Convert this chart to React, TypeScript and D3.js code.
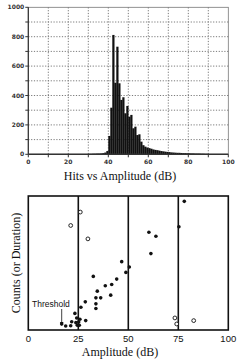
import * as React from 'react';
import * as d3 from 'd3';

// top histogram: 1 dB bins, counts
const binStart = [30, 31, 32, 33, 34, 35, 36, 37, 38, 39, 40, 41, 42, 43, 44, 45, 46, 47, 48, 49, 50, 51, 52, 53, 54, 55, 56, 57, 58, 59, 60, 61, 62, 63, 64, 65, 66, 67, 68, 69, 70, 71, 72, 73, 74, 75, 76, 77, 78, 79, 80, 81, 82, 83, 84, 85, 86, 87, 88, 89, 90];
const hits = [3, 3, 4, 4, 5, 5, 6, 8, 12, 22, 125, 317, 812, 487, 732, 483, 370, 388, 279, 329, 256, 268, 177, 188, 131, 136, 86, 62, 52, 46, 42, 38, 33, 30, 28, 25, 22, 20, 18, 16, 15, 13, 12, 11, 10, 10, 9, 8, 8, 7, 7, 6, 6, 5, 5, 5, 4, 4, 3, 3, 2];
const histYTicks = [0, 200, 400, 600, 800, 1000];
const histXTicks = [0, 20, 40, 60, 80, 100];

// bottom scatter: amplitude vs counts (relative 0-100)
const hitAmp = [16.7, 18.7, 21.2, 21.7, 23.3, 23.8, 24.5, 25.2, 25.5, 24.2, 25.8, 26.3, 28.5, 28.7, 32.5, 33.8, 33.8, 33.8, 34.5, 36.2, 38.5, 41.2, 41.7, 44.2, 46.7, 48.8, 50.5, 60.3, 63.8, 61.3, 75.3, 78];
const hitCounts = [4.5, 3, 3.2, 6.2, 12.4, 5.5, 3.5, 6, 3.5, 9, 8, 17, 21, 7, 40, 24, 19.5, 16, 29, 24, 33, 26, 34, 38, 51, 43, 47, 73, 70, 57, 77, 96];
const noiseAmp = [21.2, 26, 29.8, 73.3, 74.2, 82.7];
const noiseCounts = [78, 88, 68, 9, 4.5, 7];
const scatterTicks = [0, 25, 50, 75, 100];

export default function App() {
  const hx = d3.scaleLinear().domain([0, 100]).range([28.3, 228.3]);
  const hy = d3.scaleLinear().domain([0, 1000]).range([154.3, 7.3]);
  const sx = d3.scaleLinear().domain([0, 100]).range([28.3, 228.3]);
  const sy = d3.scaleLinear().domain([0, 100]).range([330, 196]);

  const minorY = d3.range(100, 1000, 100);
  const minorX = d3.range(10, 100, 10);

  return (
    <svg width={240} height={363} style={{ position: 'absolute', left: 0, top: 0, background: '#fff' }}>
      {/* histogram grid */}
      <g stroke="#7a7a7a" strokeWidth={1} strokeDasharray="1.2,1.6">
        {minorX.map(v => (
          <line key={'gx' + v} x1={hx(v)} x2={hx(v)} y1={hy(1000)} y2={hy(0)} />
        ))}
        {minorY.map(v => (
          <line key={'gy' + v} x1={hx(0)} x2={hx(100)} y1={hy(v)} y2={hy(v)} />
        ))}
      </g>
      <rect x={hx(0)} y={hy(1000)} width={hx(100) - hx(0)} height={hy(0) - hy(1000)} fill="none" stroke="#777" strokeWidth={0.8} />
      {/* bars */}
      <g fill="#111">
        {binStart.map((b, i) => (
          <rect key={'b' + b} x={hx(b)} width={hx(b + 1) - hx(b) + 0.2} y={hy(hits[i])} height={hy(0) - hy(hits[i])} />
        ))}
      </g>
      {/* axes */}
      <line x1={hx(0)} x2={hx(100)} y1={hy(0)} y2={hy(0)} stroke="#333" strokeWidth={1.5} />
      <line x1={hx(0)} x2={hx(0)} y1={hy(1000)} y2={hy(0)} stroke="#333" strokeWidth={1.2} />
      <g stroke="#333" strokeWidth={1}>
        {d3.range(0, 1001, 100).map(v => (
          <line key={'ty' + v} x1={hx(0) - 3} x2={hx(0)} y1={hy(v)} y2={hy(v)} />
        ))}
        {d3.range(0, 101, 10).map(v => (
          <line key={'tx' + v} x1={hx(v)} x2={hx(v)} y1={hy(0)} y2={hy(0) + 3} />
        ))}
      </g>
      <g fontFamily="DejaVu Sans" fontSize={6} fontWeight="bold" fill="#333">
        {histYTicks.map(v => (
          <text key={'ly' + v} x={hx(0) - 4} y={hy(v)} dy="0.35em" textAnchor="end">{v}</text>
        ))}
        {histXTicks.map(v => (
          <text key={'lx' + v} x={hx(v)} y={hy(0) + 10} textAnchor="middle">{v}</text>
        ))}
      </g>
      <text x={120} y={180} textAnchor="middle" fontFamily="Liberation Serif" fontSize={12} fill="#111">Hits vs Amplitude (dB)</text>

      {/* scatter frame */}
      <g stroke="#111" strokeWidth={1.6} fill="none">
        <rect x={sx(0)} y={sy(100)} width={sx(100) - sx(0)} height={sy(0) - sy(100)} />
        {[25, 50, 75].map(v => (
          <line key={'v' + v} x1={sx(v)} x2={sx(v)} y1={sy(100)} y2={sy(0)} />
        ))}
      </g>
      <g fill="#111">
        {hitAmp.map((a, i) => (
          <circle key={'h' + i} cx={sx(a)} cy={sy(hitCounts[i])} r={1.8} />
        ))}
      </g>
      <g fill="#fff" stroke="#111" strokeWidth={0.9}>
        {noiseAmp.map((a, i) => (
          <circle key={'n' + i} cx={sx(a)} cy={sy(noiseCounts[i])} r={1.9} />
        ))}
      </g>
      {/* threshold */}
      <text x={32} y={307} fontFamily="Liberation Sans" fontSize={8.5} fill="#111">Threshold</text>
      <line x1={sx(16.7)} x2={sx(16.7)} y1={309} y2={324} stroke="#111" strokeWidth={0.8} />
      <path d={`M${sx(16.7) - 1.8},${322} L${sx(16.7) + 1.8},${322} L${sx(16.7)},${326} Z`} fill="#111" />
      <g fontFamily="Liberation Sans" fontSize={9.5} fill="#111">
        {scatterTicks.map(v => (
          <text key={'s' + v} x={sx(v)} y={342} textAnchor="middle">{v}</text>
        ))}
      </g>
      <text x={120} y={356} textAnchor="middle" fontFamily="Liberation Serif" fontSize={12} fill="#111">Amplitude (dB)</text>
      <text transform="translate(20,263) rotate(-90)" textAnchor="middle" fontFamily="Liberation Serif" fontSize={12} fill="#111">Counts (or Duration)</text>
    </svg>
  );
}
